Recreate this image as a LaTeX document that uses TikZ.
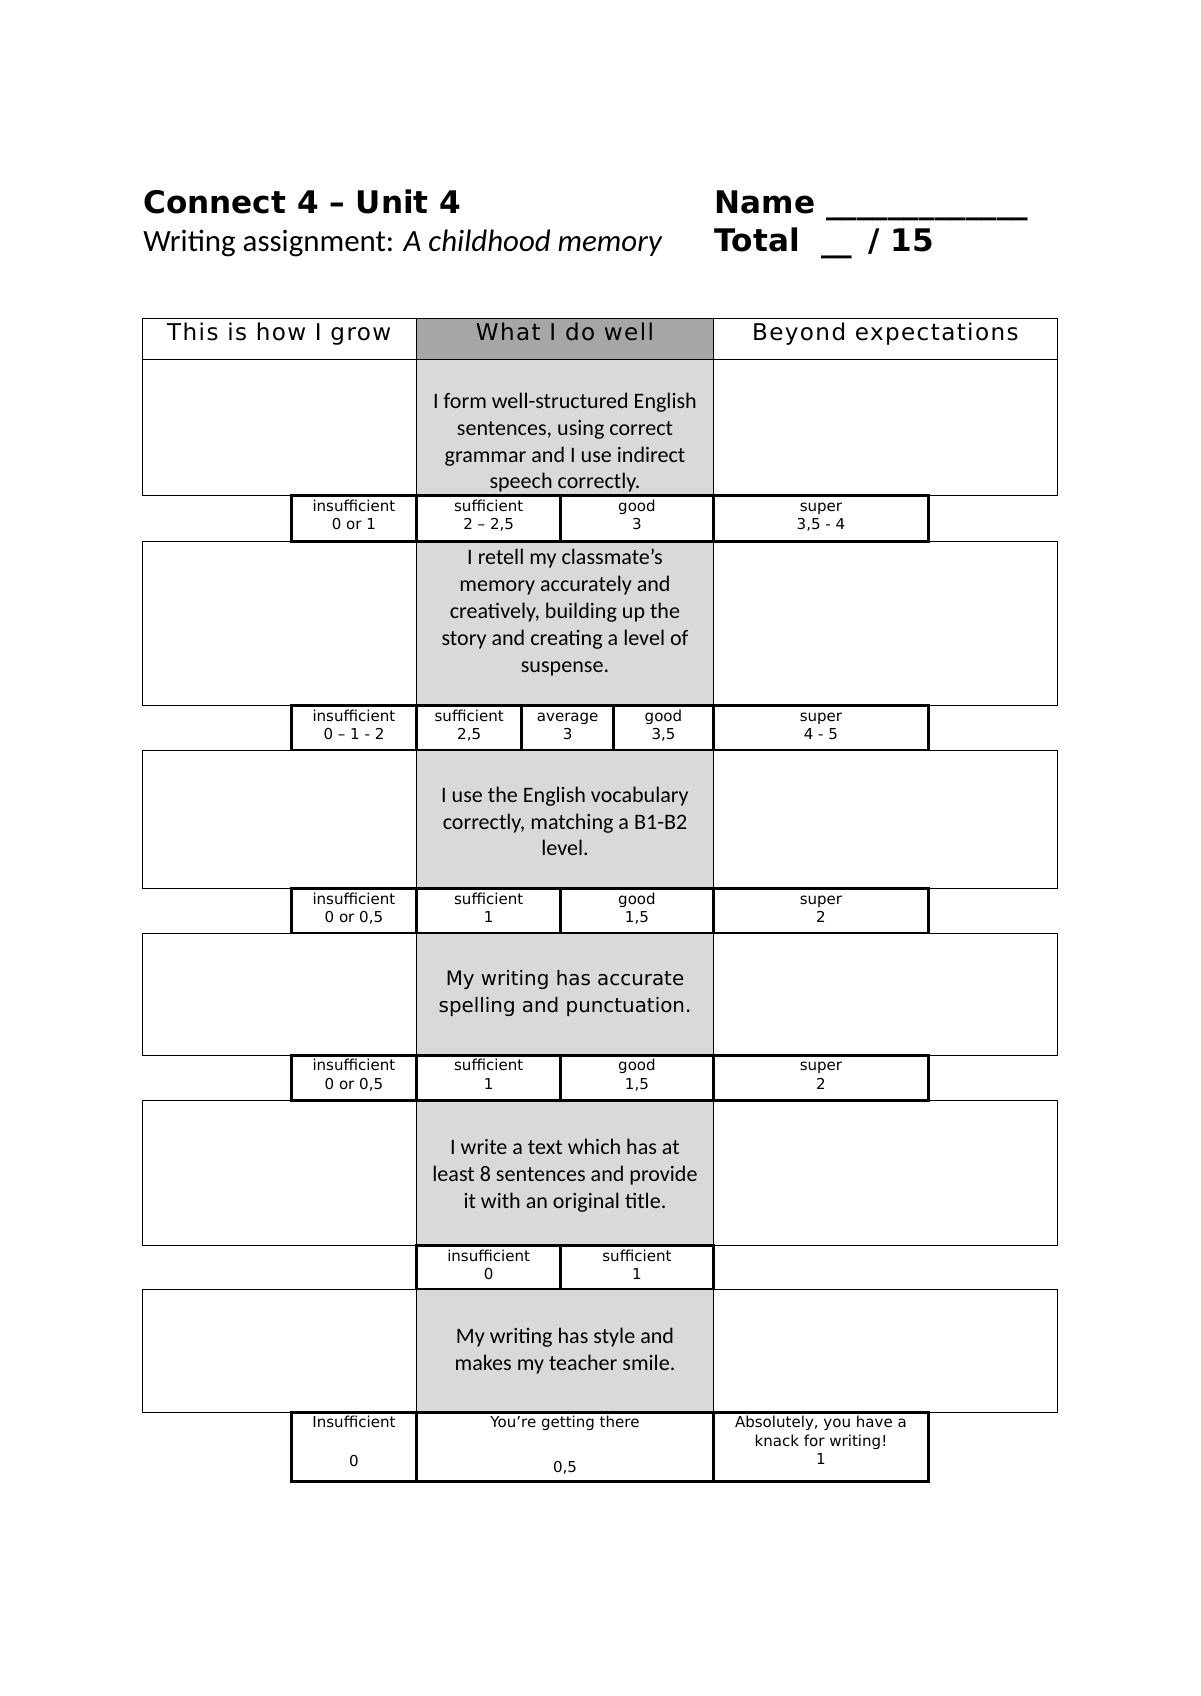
\documentclass[tikz,border=0pt]{standalone}
\usepackage{fontspec}
\setmainfont{Carlito}
\newfontfamily\carl{Carlito}
\newfontfamily\verd{DejaVu Sans}
\newfontfamily\verdsp[LetterSpace=6]{DejaVu Sans}
\usetikzlibrary{positioning}
\definecolor{headgray}{RGB}{166,166,166}
\definecolor{cellgray}{RGB}{217,217,217}

% one score cell: x1, x2, y1, y2, text, name
\newcommand{\scorecell}[6]{%
  \draw[score] (#1,#3) rectangle (#2,#4);
  \node[scoretxt] (#6) at ({(#1+#2)/2},#3+2) {\strut #5};
}
% one criterion row: top, bottom, text y, name, text
\newcommand{\critrow}[5]{%
  \fill[cellgray] (385,#1) rectangle (659,#2);
  \draw[thin] (132,#1) rectangle (977,#2);
  \draw[thin] (385,#1) -- (385,#2) (659,#1) -- (659,#2);
  \node[crit] (#4) at (522,#3) {#5};
}
\newcommand{\vsans}{\verd\fontsize{9.9}{13.4}\selectfont}

\begin{document}
\begin{tikzpicture}[x=0.01895cm, y=-0.01895cm,
    score/.style={line width=1.4pt},
    scoretxt/.style={anchor=north, align=center, font=\verd\fontsize{7.5}{9.2}\selectfont, inner sep=0pt},
    crit/.style={align=center, font=\carl\fontsize{11}{13.4}\selectfont, inner sep=0pt},
    head/.style={anchor=base, font=\verdsp\fontsize{11.5}{12}\selectfont, inner sep=0pt},
    big/.style={anchor=base west, font=\verd\bfseries\fontsize{15.5}{18}\selectfont, inner sep=0pt}
]
\useasboundingbox (0,0) rectangle (1109,1567);

% title block
\node[big] (title) at (132,197) {Connect 4 – Unit 4};
\node[anchor=base west, font=\carl\fontsize{15.4}{17}\selectfont, inner sep=0pt] (sub) at (132,232) {Writing assignment: \textit{A childhood memory}};
\node[big] (name) at (660,197) {Name \_\_\_\_\_\_\_\_\_\_\_\_\_};
\node[big] (total) at (660,232) {Total \ \_\_ \,/ 15};

% header row
\fill[headgray] (385,294) rectangle (659,332);
\draw[thin] (132,294) rectangle (977,332);
\draw[thin] (385,294) -- (385,332) (659,294) -- (659,332);
\node[head] (h1) at (258,315) {This is how I grow};
\node[head] (h2) at (522,315) {What I do well};
\node[head] (h3) at (818,315) {Beyond expectations};

% criteria
\critrow{332}{458}{409}{c1}{I form well-structured English\\sentences, using correct\\grammar and I use indirect\\speech correctly.}
\critrow{500}{652}{566}{c2}{I retell my classmate’s\\memory accurately and\\creatively, building up the\\story and creating a level of\\suspense.}
\critrow{693}{821}{759}{c3}{I use the English vocabulary\\correctly, matching a B1-B2\\level.}
\critrow{862}{975}{918}{c4}{\vsans My writing has accurate\\\vsans spelling and punctuation.}
\critrow{1017}{1151}{1086}{c5}{I write a text which has at\\least 8 sentences and provide\\it with an original title.}
\critrow{1191}{1305}{1248}{c6}{My writing has style and\\makes my teacher smile.}

% score rows
\scorecell{269}{385}{458}{500}{insufficient\\0 or 1}{s11}
\scorecell{385}{518}{458}{500}{sufficient\\2 – 2,5}{s12}
\scorecell{518}{659}{458}{500}{good\\3}{s13}
\scorecell{659}{858}{458}{500}{super\\3,5 - 4}{s14}

\scorecell{269}{385}{652}{693}{insufficient\\0 – 1 - 2}{s21}
\scorecell{385}{482}{652}{693}{sufficient\\2,5}{s22}
\scorecell{482}{567}{652}{693}{average\\3}{s23}
\scorecell{567}{659}{652}{693}{good\\3,5}{s24}
\scorecell{659}{858}{652}{693}{super\\4 - 5}{s25}

\scorecell{269}{385}{821}{862}{insufficient\\0 or 0,5}{s31}
\scorecell{385}{518}{821}{862}{sufficient\\1}{s32}
\scorecell{518}{659}{821}{862}{good\\1,5}{s33}
\scorecell{659}{858}{821}{862}{super\\2}{s34}

\scorecell{269}{385}{975}{1017}{insufficient\\0 or 0,5}{s41}
\scorecell{385}{518}{975}{1017}{sufficient\\1}{s42}
\scorecell{518}{659}{975}{1017}{good\\1,5}{s43}
\scorecell{659}{858}{975}{1017}{super\\2}{s44}

\scorecell{385}{518}{1151}{1191}{insufficient\\0}{s51}
\scorecell{518}{659}{1151}{1191}{sufficient\\1}{s52}

\scorecell{269}{385}{1305}{1369}{Insufficient\\[2.4ex]0}{s61}
\scorecell{385}{659}{1305}{1369}{You’re getting there\\[3.2ex]0,5}{s62}
\scorecell{659}{858}{1305}{1369}{Absolutely, you have a\\knack for writing!\\1}{s63}
\end{tikzpicture}
\end{document}
